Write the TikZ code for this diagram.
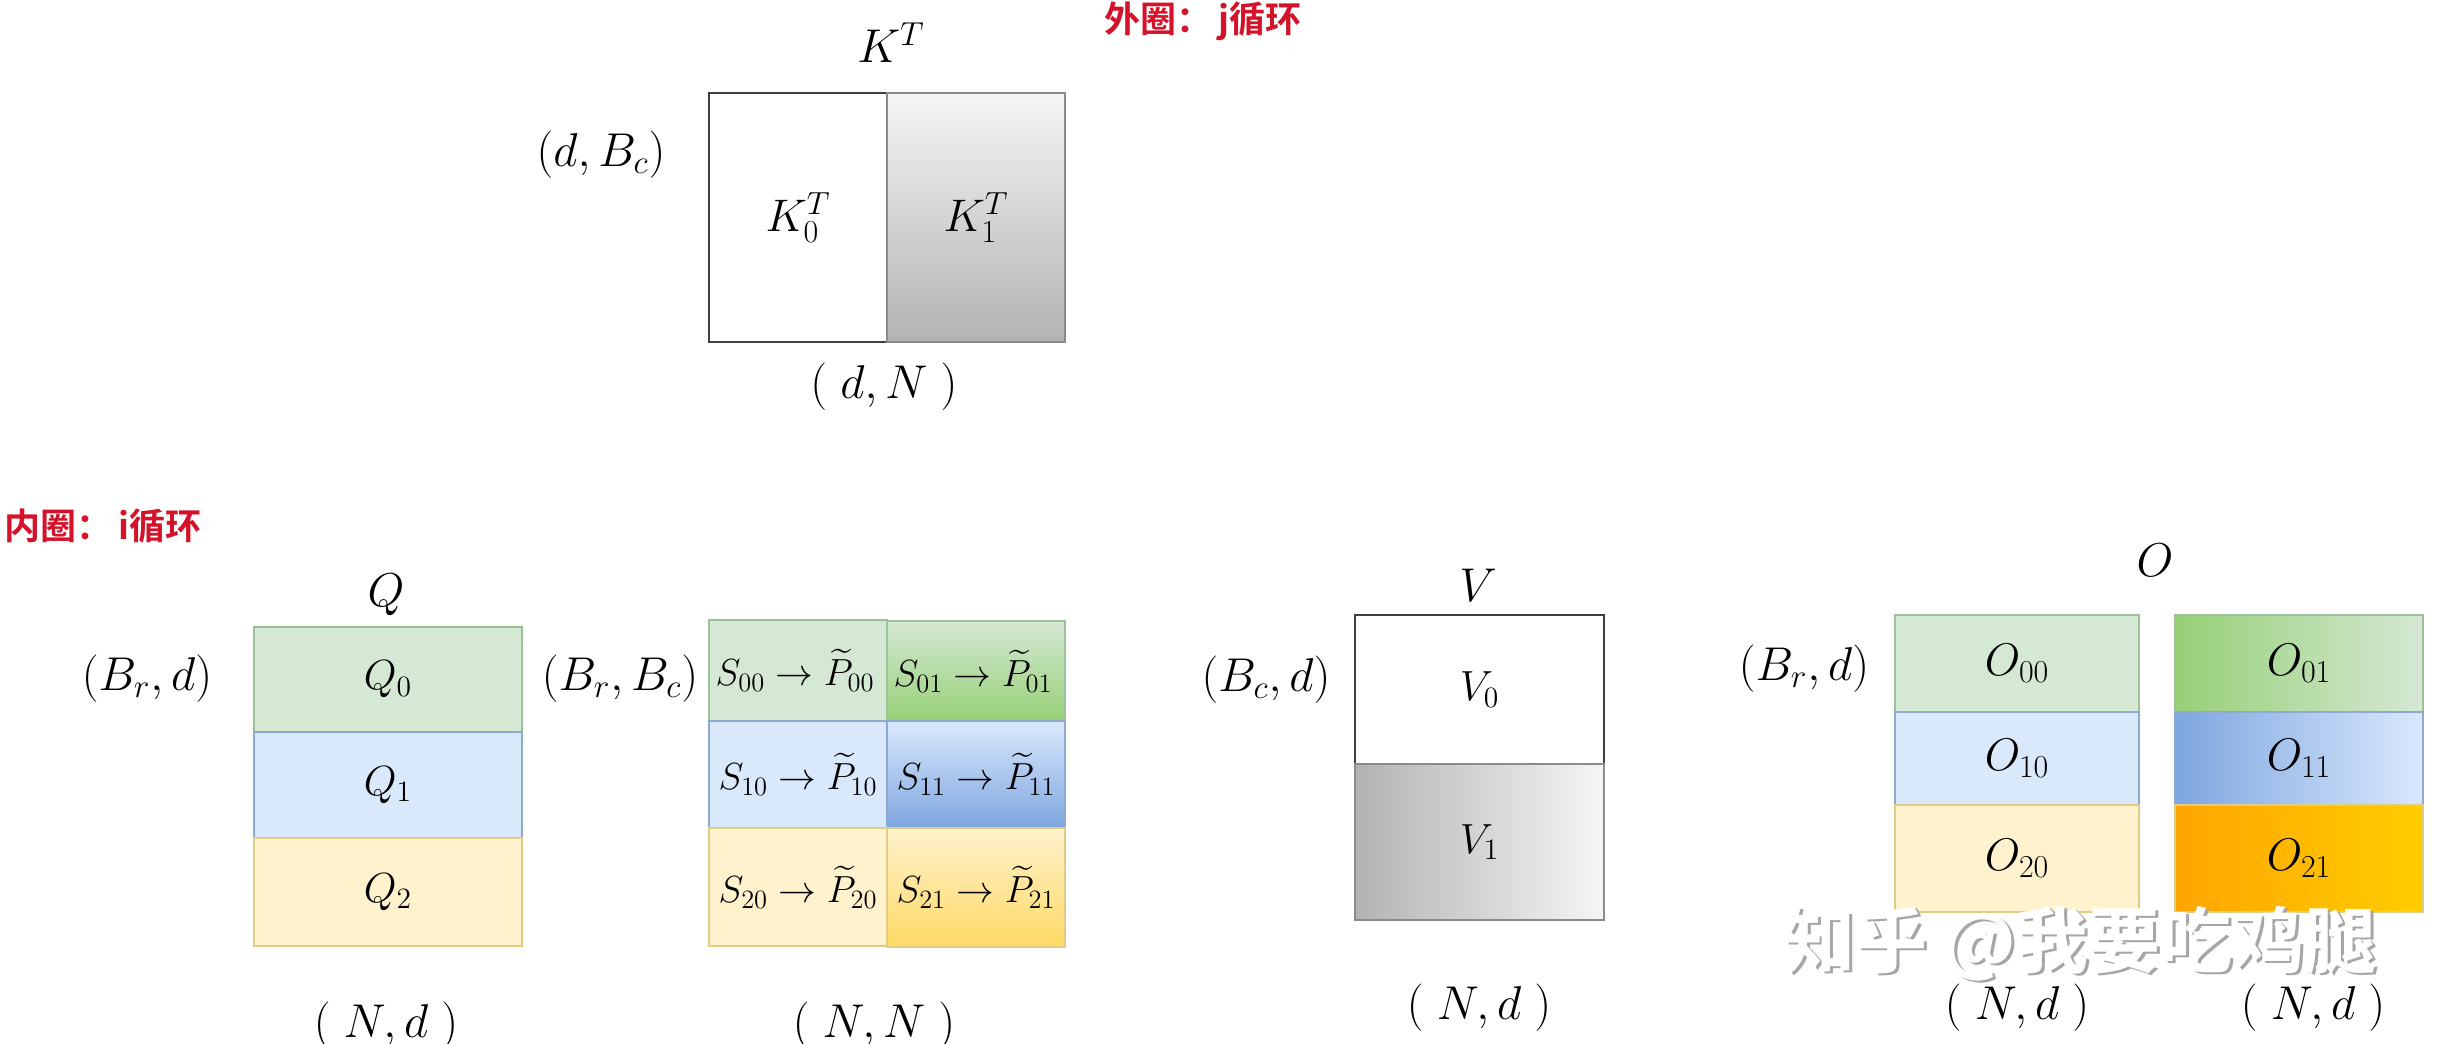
\documentclass[tikz,border=0pt]{standalone}
\usepackage{fix-cm}
\usepackage{amsmath}
\usepackage{fontspec}
\newfontfamily\cjk{Noto Sans CJK SC}[BoldFont={Noto Sans CJK SC Bold}]
\definecolor{gF}{HTML}{D5E8D4}\definecolor{gS}{HTML}{9CC09A}\definecolor{gD}{HTML}{97D077}
\definecolor{bF}{HTML}{DAE8FC}\definecolor{bS}{HTML}{8FAACF}\definecolor{bD}{HTML}{7EA6E0}
\definecolor{yF}{HTML}{FFF2CC}\definecolor{yS}{HTML}{E0CD85}\definecolor{yD}{HTML}{FFD966}
\definecolor{oL}{HTML}{FFA500}\definecolor{oR}{HTML}{FFCD00}
\definecolor{kS}{HTML}{6E6E6E}\definecolor{kL}{HTML}{F5F5F5}\definecolor{kD}{HTML}{B3B3B3}
\definecolor{redtxt}{HTML}{D4122A}
\newcommand{\cellbox}[7]{%
  \node[#6,minimum width={(#4-#2)*0.56906},minimum height={(#5-#3)*0.56906}] (#1) at ({(#2+#4)/2},{(#3+#5)/2}) {#7};}
\newcommand{\stext}[2]{$S_{#1}\to\widetilde{P}_{#2}$\hspace{3.4pt}}
\tikzset{
  cellbase/.style={draw,line width=1pt,inner sep=0pt,outer sep=0pt,font=\fontsize{24}{28}\selectfont},
  gcell/.style={cellbase,draw=gS,fill=gF},
  bcell/.style={cellbase,draw=bS,fill=bF},
  ycell/.style={cellbase,draw=yS,fill=yF},
  wcell/.style={cellbase,draw=black!75,fill=white},
  smalltext/.style={font=\fontsize{21.5}{25}\selectfont},
  bigtext/.style={font=\fontsize{26}{30}\selectfont},
  gvert/.style={cellbase,draw=gS,top color=gF,bottom color=gD},
  bvert/.style={cellbase,draw=bS,top color=bF,bottom color=bD},
  yvert/.style={cellbase,draw=yS,top color=yF,bottom color=yD},
  ghor/.style={cellbase,draw=gS,left color=gD,right color=gF},
  bhor/.style={cellbase,draw=bS,left color=bD,right color=bF},
  ohor/.style={cellbase,draw=yS,left color=oL,right color=oR},
  kvert/.style={cellbase,draw=kS!80,top color=kL,bottom color=kD},
  khor/.style={cellbase,draw=kS!80,left color=kD,right color=kL},
  lab/.style={inner sep=0pt,font=\fontsize{27}{31}\selectfont},
  redlab/.style={inner sep=0pt,text=redtxt,font=\cjk\bfseries\fontsize{20.5}{24}\selectfont},
  wm/.style={inner sep=0pt,font=\cjk\bfseries\fontsize{41}{47}\selectfont},
}
\begin{document}
\begin{tikzpicture}[x=0.02cm,y=-0.02cm]
\useasboundingbox (0,0) rectangle (2438,1044);
% K^T
\cellbox{k0}{709}{93}{887}{342}{wcell,bigtext}{$K_0^T$\hspace{5pt}}
\cellbox{k1}{887}{93}{1065}{342}{kvert,bigtext}{$K_1^T$\hspace{5pt}}
\node[lab] (kt) at (891,43) {$K^T$};
\node[lab] (kl) at (601,155) {$(d,B_c)$};
\node[lab] (kb) at (884,387) {$(\;d,N\;)$};
\node[redlab] (rt) at (1203,21) {外圈：\,j循环};
% Q
\cellbox{q0}{254}{627}{522}{732}{gcell}{$Q_0$}
\cellbox{q1}{254}{732}{522}{838}{bcell}{$Q_1$}
\cellbox{q2}{254}{838}{522}{946}{ycell}{$Q_2$}
\node[lab] (ql) at (386,595) {$Q$};
\node[lab] (qs) at (147,679) {$(B_r,d)$};
\node[lab] (qb) at (386,1026) {$(\;N,d\;)$};
\node[redlab] (rq) at (103,526) {内圈：\,i循环};
% S
\cellbox{s00}{709}{620}{887}{721}{gcell,smalltext}{\raisebox{-5pt}{\stext{00}{00}}}
\cellbox{s01}{887}{621}{1065}{721}{gvert,smalltext}{\raisebox{-5pt}{\stext{01}{01}}}
\cellbox{s10}{709}{721}{887}{828}{bcell,smalltext}{\stext{10}{10}}
\cellbox{s11}{887}{721}{1065}{828}{bvert,smalltext}{\stext{11}{11}}
\cellbox{s20}{709}{828}{887}{946}{ycell,smalltext}{\stext{20}{20}}
\cellbox{s21}{887}{828}{1065}{947}{yvert,smalltext}{\stext{21}{21}}
\node[lab] (ss) at (620,679) {$(B_r,B_c)$};
\node[lab] (sb) at (874,1026) {$(\;N,N\;)$};
% V
\cellbox{v0}{1355}{615}{1604}{764}{wcell}{\raisebox{-2.6pt}{$V_0$}\hspace{3.5pt}}
\cellbox{v1}{1355}{764}{1604}{920}{khor}{\raisebox{3.5pt}{$V_1$}\hspace{3.5pt}}
\node[lab] (vl) at (1478,585) {$V$};
\node[lab] (vs) at (1266,680) {$(B_c,d)$};
\node[lab] (vb) at (1479,1008) {$(\;N,d\;)$};
% O
\cellbox{o00}{1895}{615}{2139}{712}{gcell,bigtext}{\raisebox{-3pt}{$O_{00}$}}
\cellbox{o10}{1895}{712}{2139}{805}{bcell,bigtext}{$O_{10}$}
\cellbox{o20}{1895}{805}{2139}{912}{ycell,bigtext}{$O_{20}$}
\cellbox{o01}{2175}{615}{2423}{712}{ghor,bigtext}{\raisebox{-3pt}{$O_{01}$}\hspace{3pt}}
\cellbox{o11}{2175}{712}{2423}{805}{bhor,bigtext}{$O_{11}$\hspace{3pt}}
\cellbox{o21}{2175}{805}{2423}{912}{ohor,bigtext}{$O_{21}$\hspace{3pt}}
\node[lab] (ol) at (2155,560) {$O$};
\node[lab] (os) at (1804,669) {$(B_r,d)$};
\node[lab] (ob0) at (2017,1008) {$(\;N,d\;)$};
\node[lab] (ob1) at (2313,1008) {$(\;N,d\;)$};
% watermark
\node[wm,text=black!35] (wms) at (2083,946) {知乎\ @我要吃鸡腿};
\node[wm,text=white] (wm) at (2080,944) {知乎\ @我要吃鸡腿};
\end{tikzpicture}
\end{document}
